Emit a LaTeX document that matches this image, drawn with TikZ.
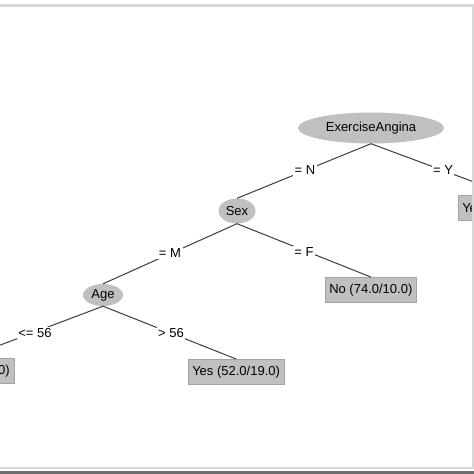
\documentclass[tikz,border=0pt]{standalone}
\usepackage{fontspec}
\setmainfont{Liberation Sans}
\usetikzlibrary{shapes.geometric}
\definecolor{nodegray}{RGB}{192,192,192}
\definecolor{linegray}{RGB}{60,60,60}
\definecolor{framegray}{RGB}{215,215,215}
\definecolor{darkband}{RGB}{110,110,110}
\tikzset{
  txt/.style={font=\fontsize{13}{15}\selectfont},
  innode/.style={ellipse, fill=nodegray, draw=none, inner sep=0pt, txt},
  leaf/.style={rectangle, fill=nodegray, draw=nodegray!85!black, line width=0.5pt, inner xsep=4pt, inner ysep=0pt, minimum height=25pt, txt},
  elabel/.style={fill=white, inner sep=1.5pt, txt},
  edge/.style={draw=linegray, line width=1pt}
}
\begin{document}
\begin{tikzpicture}[x=1pt,y=-1pt]
\useasboundingbox (0,0) rectangle (474,474);
\fill[white] (0,0) rectangle (474,474);
% frame
\fill[framegray] (0,4) rectangle (474,6.5);
\fill[framegray] (0,467) rectangle (474,469);
\fill[darkband] (0,471) rectangle (474,474);

% internal nodes
\node[innode, minimum width=146pt, minimum height=31pt] (ea) at (371,128) {ExerciseAngina};
\node[innode, minimum width=37pt, minimum height=25pt] (sex) at (237,211) {Sex};
\node[innode, minimum width=40pt, minimum height=22pt] (age) at (103,295) {Age};

% leaves
\node[leaf, anchor=north west] (no74) at (325,277) {No (74.0/10.0)};
\node[leaf, anchor=north west] (yes52) at (188,359) {Yes (52.0/19.0)};
\node[leaf, anchor=north west, minimum width=102pt, align=left, text width=94pt] (yesr) at (458,195) {Ye};
\node[leaf, anchor=north east, minimum width=97pt, align=right, text width=89pt] (nol) at (14,358) {0)};

\coordinate (yrtop) at (509,195);
\coordinate (nltop) at (-34,358);

% edges
\draw[edge] (ea.south) -- (sex.north);
\draw[edge] (ea.south) -- (yrtop);
\draw[edge] (sex.south) -- (age.north);
\draw[edge] (sex.south) -- (no74.north);
\draw[edge] (age.south) -- (nltop);
\draw[edge] (age.south) -- (yes52.north);

% edge labels
\node[elabel] (ln) at (305,170) {= N};
\node[elabel] (ly) at (443,170) {= Y};
\node[elabel] (lm) at (170,253) {= M};
\node[elabel] (lf) at (304,252) {= F};
\node[elabel] (lle) at (35,333) {<= 56};
\node[elabel] (lgt) at (171,333) {> 56};

% right frame line over the clipped leaf
\fill[framegray] (471.5,4) rectangle (474,469);
\end{tikzpicture}
\end{document}
